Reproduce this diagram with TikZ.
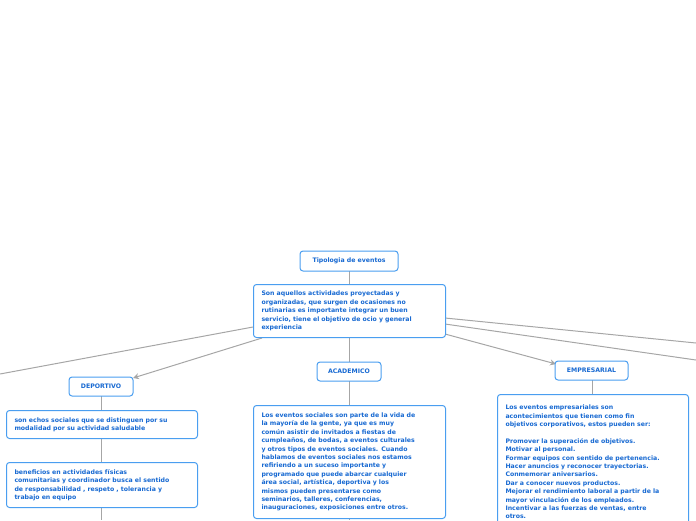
\documentclass[tikz,border=0pt]{standalone}
\usepackage{fontspec}
\setmainfont{DejaVu Sans}
\usetikzlibrary{arrows.meta}
\begin{document}
\begin{tikzpicture}[x=1pt,y=-1pt,
  bx/.style={draw=boxc,line width=1pt,rounded corners=3pt,fill=white,text=txtc,font=\bfseries\fontsize{6.2}{8.4}\selectfont,align=left,inner sep=0pt},
  ln/.style={draw=linec,line width=1pt},
  ar/.style={ln,-{Stealth[length=6pt,width=6pt]}}]
\definecolor{boxc}{HTML}{4A9EF0}
\definecolor{txtc}{HTML}{1769D2}
\definecolor{linec}{HTML}{A6A6A6}
\useasboundingbox (0,0) rectangle (696,520);
\coordinate (L1) at (0,374);
\coordinate (R1) at (696,343);
\coordinate (R2) at (696,360);
\coordinate (B2) at (349,520);
\draw[ln] (349,261) -- (349,310);
\draw[ln] (253,327) -- (L1);
\draw[ar] (262,338) -- (133,378);
\draw[ln] (349,310) -- (349,405);
\draw[ln] (445,318) -- (R1);
\draw[ln] (445,324) -- (R2);
\draw[ar] (445,334) -- (556,364);
\draw[ln] (101,387) -- (101,520);
\draw[ln] (592,370) -- (592,400);
\draw[ln] (349,460) -- (B2);
\node[bx,minimum width=98pt,minimum height=20pt,align=center] (tip) at (349,261) {Tipologia de eventos};
\node[bx,minimum width=192pt,minimum height=53pt,anchor=north west,text width=176pt,inner xsep=8pt] (main) at (253,284) {Son aquellos actividades proyectadas y\\organizadas, que surgen de ocasiones no\\rutinarias es importante integrar un buen\\servicio, tiene el objetivo de ocio y general\\experiencia};
\node[bx,minimum width=64pt,minimum height=19pt,align=center] (dep) at (101,386.5) {DEPORTIVO};
\node[bx,minimum width=64pt,minimum height=19pt,align=center] (aca) at (349,371.5) {ACADEMICO};
\node[bx,minimum width=73pt,minimum height=19pt,align=center] (emp) at (591.5,370.5) {EMPRESARIAL};
\node[bx,minimum width=191pt,minimum height=28pt,anchor=north west,text width=175pt,inner xsep=8pt] (d1) at (6,410) {son echos sociales que se distinguen por su\\modalidad por su actividad saludable};
\node[bx,minimum width=191pt,minimum height=45pt,anchor=north west,text width=175pt,inner xsep=8pt] (d2) at (6,462) {beneficios en actividades físicas\\comunitarias y coordinador busca el sentido\\de responsabilidad , respeto , tolerancia y\\trabajo en equipo};
\node[bx,minimum width=192pt,minimum height=113pt,anchor=north west,text width=176pt,inner xsep=8pt] (a1) at (253,405) {Los eventos sociales son parte de la vida de\\la mayoría de la gente, ya que es muy\\común asistir de invitados a fiestas de\\cumpleaños, de bodas, a eventos culturales\\y otros tipos de eventos sociales. Cuando\\hablamos de eventos sociales nos estamos\\refiriendo a un suceso importante y\\programado que puede abarcar cualquier\\área social, artística, deportiva y los\\mismos pueden presentarse como\\seminarios, talleres, conferencias,\\inauguraciones, exposiciones entre otros.};
\node[bx,minimum width=191pt,minimum height=135pt,anchor=north west,text width=175pt,inner xsep=8pt,inner ysep=6pt] (e1) at (497,394) {Los eventos empresariales son\\acontecimientos que tienen como fin\\objetivos corporativos, estos pueden ser:\\[8.4pt]Promover la superación de objetivos.\\Motivar al personal.\\Formar equipos con sentido de pertenencia.\\Hacer anuncios y reconocer trayectorias.\\Conmemorar aniversarios.\\Dar a conocer nuevos productos.\\Mejorar el rendimiento laboral a partir de la\\mayor vinculación de los empleados.\\Incentivar a las fuerzas de ventas, entre\\otros.};
\end{tikzpicture}
\end{document}
